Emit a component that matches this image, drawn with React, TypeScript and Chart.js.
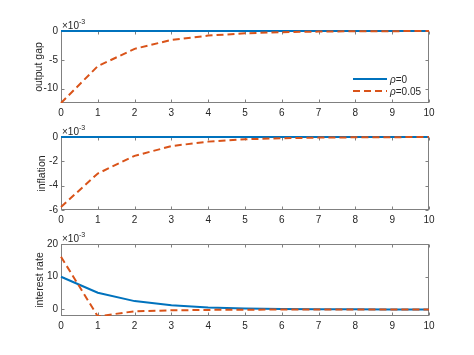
import React, { useEffect, useRef } from "react";
import { Chart, registerables } from "chart.js";

Chart.register(...registerables);

const xValues = [0, 1, 2, 3, 4, 5, 6, 7, 8, 9, 10];
const seriesLabels = ["ρ=0", "ρ=0.05"];

const outputGapRho0 = [0, 0, 0, 0, 0, 0, 0, 0, 0, 0, 0];
const outputGapRho005 = [-12.5, -6.1, -3.1, -1.55, -0.8, -0.4, -0.2, -0.1, -0.05, -0.025, -0.012];

const inflationRho0 = [0, 0, 0, 0, 0, 0, 0, 0, 0, 0, 0];
const inflationRho005 = [-5.75, -3.0, -1.55, -0.75, -0.38, -0.19, -0.1, -0.05, -0.025, -0.012, -0.006];

const interestRho0 = [10, 5.1, 2.55, 1.25, 0.62, 0.31, 0.16, 0.08, 0.04, 0.02, 0.01];
const interestRho005 = [16.1, -2.1, -0.55, -0.27, -0.14, -0.07, -0.035, -0.017, -0.009, -0.004, -0.002];

const outputGapTicks = [-10, -5, 0];
const inflationTicks = [-6, -4, -2, 0];
const interestTicks = [0, 10, 20];

const BLUE = "#0072BD";
const ORANGE = "#D95319";
const AXIS = "#808080";
const TEXT = "#262626";
const FONT = "'Liberation Sans', Arial, Helvetica, sans-serif";

type Panel = {
  title: string;
  a: number[];
  b: number[];
  min: number;
  max: number;
  ticks: number[];
  top: number;
  height: number;
  padTop: number;
  xH: number;
  titlePad: number;
  legend: boolean;
};

const panels: Panel[] = [
  { title: "output gap", a: outputGapRho0, b: outputGapRho005, min: -12.5, max: 0, ticks: outputGapTicks, top: 0, height: 120, padTop: 31, xH: 17, titlePad: 33, legend: true },
  { title: "inflation", a: inflationRho0, b: inflationRho005, min: -6, max: 0, ticks: inflationTicks, top: 120, height: 110, padTop: 17, xH: 20, titlePad: 36, legend: false },
  { title: "interest rate", a: interestRho0, b: interestRho005, min: -2, max: 20, ticks: interestTicks, top: 230, height: 125, padTop: 14, xH: 39, titlePad: 34, legend: false },
];

const framePlugin = {
  id: "matlabFrame",
  beforeDatasetsDraw(chart: any) {
    const { ctx, chartArea } = chart;
    const l = Math.round(chartArea.left) + 0.5;
    const r = Math.round(chartArea.right) - 0.5;
    const t = Math.round(chartArea.top) + 0.5;
    const b = Math.round(chartArea.bottom) - 0.5;
    ctx.save();
    ctx.strokeStyle = AXIS;
    ctx.lineWidth = 1;
    ctx.strokeRect(l, t, r - l, b - t);
    const xs = chart.scales.x;
    const ys = chart.scales.y;
    const tl = 3;
    ctx.beginPath();
    xs.ticks.forEach((tk: any) => {
      const px = Math.round(xs.getPixelForValue(tk.value)) + 0.5;
      ctx.moveTo(px, b);
      ctx.lineTo(px, b - tl);
      ctx.moveTo(px, t);
      ctx.lineTo(px, t + tl);
    });
    ys.ticks.forEach((tk: any) => {
      const py = Math.round(ys.getPixelForValue(tk.value)) + 0.5;
      ctx.moveTo(l, py);
      ctx.lineTo(l + tl, py);
      ctx.moveTo(r, py);
      ctx.lineTo(r - tl, py);
    });
    ctx.stroke();
    ctx.restore();
  },
  afterDraw(chart: any) {
    const { ctx, chartArea } = chart;
    ctx.save();
    ctx.fillStyle = TEXT;
    ctx.textBaseline = "alphabetic";
    ctx.textAlign = "left";
    ctx.font = `10px ${FONT}`;
    const x0 = chartArea.left + 1;
    const y0 = chartArea.top - 2;
    ctx.fillText("×10", x0, y0);
    const w = ctx.measureText("×10").width;
    ctx.font = `7px ${FONT}`;
    ctx.fillText("-3", x0 + w, y0 - 5);

    if (chart.options.plugins.matlabFrame?.legend) {
      const r = chartArea.right;
      const rows = [
        { y: chartArea.top + 48, color: BLUE, dash: [] as number[], label: seriesLabels[0] },
        { y: chartArea.top + 60, color: ORANGE, dash: [7, 4], label: seriesLabels[1] },
      ];
      rows.forEach((row) => {
        ctx.beginPath();
        ctx.strokeStyle = row.color;
        ctx.lineWidth = 2;
        ctx.setLineDash(row.dash);
        ctx.moveTo(r - 76, row.y);
        ctx.lineTo(r - 42, row.y);
        ctx.stroke();
        ctx.setLineDash([]);
        ctx.fillStyle = TEXT;
        ctx.textBaseline = "middle";
        ctx.font = `italic 10px ${FONT}`;
        const greek = row.label.slice(0, 1);
        ctx.fillText(greek, r - 39, row.y + 1);
        const gw = ctx.measureText(greek).width;
        ctx.font = `10px ${FONT}`;
        ctx.fillText(row.label.slice(1), r - 39 + gw, row.y + 1);
      });
    }
    ctx.restore();
  },
};

function PanelChart({ p }: { p: Panel }) {
  const ref = useRef<HTMLCanvasElement | null>(null);
  useEffect(() => {
    if (!ref.current) return;
    const clip = { left: 1, right: 1, top: 2, bottom: 0 };
    const chart = new Chart(ref.current, {
      type: "line",
      data: {
        datasets: [
          {
            label: seriesLabels[0],
            data: xValues.map((x, i) => ({ x, y: p.a[i] })),
            borderColor: BLUE,
            backgroundColor: BLUE,
            borderWidth: 2,
            pointRadius: 0,
            tension: 0,
            order: 1,
            clip,
          },
          {
            label: seriesLabels[1],
            data: xValues.map((x, i) => ({ x, y: p.b[i] })),
            borderColor: ORANGE,
            backgroundColor: ORANGE,
            borderWidth: 2,
            borderDash: [7, 4],
            pointRadius: 0,
            tension: 0,
            order: 0,
            clip,
          },
        ],
      },
      options: {
        animation: false,
        responsive: false,
        maintainAspectRatio: false,
        devicePixelRatio: 1,
        layout: { padding: { left: 0, right: 45, top: p.padTop, bottom: 0 } },
        plugins: {
          legend: { display: false },
          tooltip: { enabled: false },
          matlabFrame: { legend: p.legend },
        } as any,
        scales: {
          x: {
            type: "linear",
            min: 0,
            max: 10,
            grid: { display: false, drawTicks: false },
            border: { display: false },
            ticks: { stepSize: 1, autoSkip: false, maxRotation: 0, padding: 4, color: TEXT, font: { family: FONT, size: 10 } },
            afterFit: (s: any) => {
              s.height = p.xH;
            },
          },
          y: {
            type: "linear",
            min: p.min,
            max: p.max,
            grid: { display: false, drawTicks: false },
            border: { display: false },
            ticks: { padding: 3, color: TEXT, font: { family: FONT, size: 10 } },
            afterBuildTicks: (s: any) => {
              s.ticks = p.ticks.map((v) => ({ value: v }));
            },
            afterFit: (s: any) => {
              s.width = 61;
            },
            title: {
              display: true,
              text: p.title,
              color: TEXT,
              font: { family: FONT, size: 10.5 },
              padding: { top: p.titlePad, bottom: 0 },
            },
          },
        },
      } as any,
      plugins: [framePlugin],
    });
    return () => chart.destroy();
  }, [p]);
  return (
    <canvas
      ref={ref}
      width={474}
      height={p.height}
      style={{ position: "absolute", left: 0, top: p.top, width: 474, height: p.height }}
    />
  );
}

export default function App() {
  return (
    <div style={{ position: "absolute", left: 0, top: 0, width: 474, height: 355, background: "#fff" }}>
      {panels.map((p) => (
        <PanelChart key={p.title} p={p} />
      ))}
    </div>
  );
}
